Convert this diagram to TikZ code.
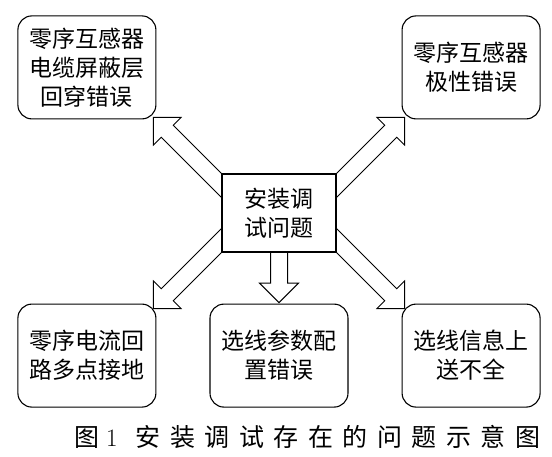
\documentclass[tikz,border=0pt]{standalone}
\usepackage{fontspec}
\newfontfamily\cjk{Noto Sans CJK SC}
\newfontfamily\cjkcap[LetterSpace=38]{Noto Sans CJK SC}
\usetikzlibrary{positioning,calc}
\pgfdeclarelayer{background}
\pgfsetlayers{background,main}
\tikzstyle{tRoundBox} = [rectangle, rounded corners=14pt, draw=black, line width=1.1pt, fill=white, align=center, minimum width=138pt, minimum height=103pt, text centered, font=\cjk\fontsize{23}{29}\selectfont]
\tikzstyle{tCenterBox} = [rectangle, draw=black, line width=1.1pt, fill=white, align=center, minimum width=114pt, minimum height=78pt, text centered, font=\cjk\fontsize{23}{29}\selectfont]
\tikzstyle{tHollow} = [draw=black, line width=1pt, line join=miter, fill=white]
\newcommand{\hollowarrow}[2]{%
  \path ($(#2)!19.5pt!(#1)$) coordinate (hbase);
  \draw[tHollow] ($(#1)!8.5pt!90:(#2)$) -- ($(hbase)!8.5pt!90:(#2)$) -- ($(hbase)!19.5pt!90:(#2)$) -- (#2)
    -- ($(hbase)!19.5pt!-90:(#2)$) -- ($(hbase)!8.5pt!-90:(#2)$) -- ($(#1)!8.5pt!-90:(#2)$) -- cycle;
}
\begin{document}
\begin{tikzpicture}[x=1pt,y=-1pt]
    \useasboundingbox (0,0) rectangle (552,457);
    \node[tCenterBox] (Center) at (279,213) {安装调\\试问题};
    \node[tRoundBox] (ProbTL) [above left=54pt and 65pt of Center] {零序互感器\\电缆屏蔽层\\回穿错误};
    \node[tRoundBox] (ProbTR) [above right=54pt and 65pt of Center] {零序互感器\\极性错误};
    \node[tRoundBox] (ProbBL) [below left=51pt and 65pt of Center] {零序电流回\\路多点接地};
    \node[tRoundBox] (ProbBM) [below=51pt of Center] {选线参数配\\置错误};
    \node[tRoundBox] (ProbBR) [below right=51pt and 65pt of Center] {选线信息上\\送不全};
    \node[anchor=west, inner sep=0pt, font=\fontsize{25}{30}\selectfont] (Caption) at (74,437)
        {{\cjk 图}\hspace{7pt}{\rmfamily 1}\hspace{18pt}{\cjkcap 安装调试存在的问题示意图}};

    \coordinate (tlTail) at ($(Center.north west)+(14,26)$);
    \coordinate (tlTip) at ($(ProbTL.south east)+(-3,-2)$);
    \coordinate (trTail) at ($(Center.north east)+(-14,26)$);
    \coordinate (trTip) at ($(ProbTR.south west)+(3,-2)$);
    \coordinate (blTail) at ($(Center.south west)+(14,-26)$);
    \coordinate (blTip) at ($(ProbBL.north east)+(-3,5)$);
    \coordinate (brTail) at ($(Center.south east)+(-14,-26)$);
    \coordinate (brTip) at ($(ProbBR.north west)+(3,5)$);
    \coordinate (bmTail) at ($(Center.south)+(0,-20)$);
    \coordinate (bmTip) at ($(ProbBM.north)+(0,-1)$);
    \begin{pgfonlayer}{background}
        \hollowarrow{tlTail}{tlTip}
        \hollowarrow{trTail}{trTip}
        \hollowarrow{blTail}{blTip}
        \hollowarrow{brTail}{brTip}
        \hollowarrow{bmTail}{bmTip}
    \end{pgfonlayer}
\end{tikzpicture}
\end{document}
